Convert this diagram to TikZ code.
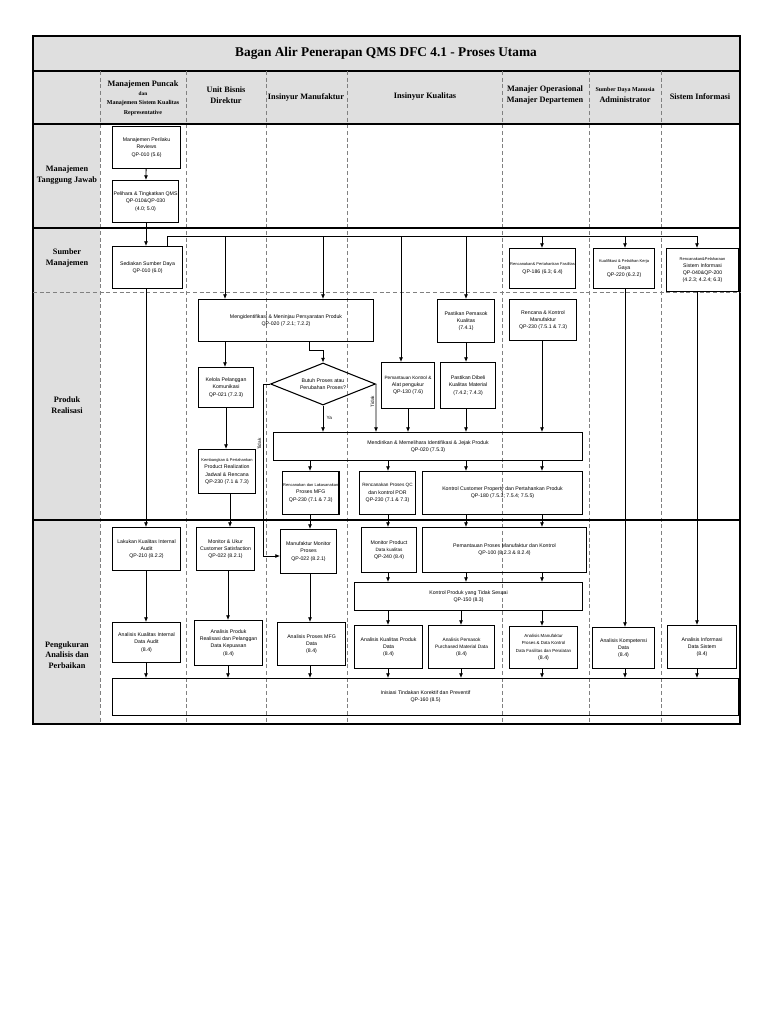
\documentclass[tikz,border=0pt]{standalone}
\usepackage{fontspec}
\setmainfont{Liberation Serif}
\setsansfont{Liberation Sans}
\usetikzlibrary{shapes.geometric,arrows.meta,calc}
\begin{document}
\begin{tikzpicture}[x=0.75pt,y=-0.75pt,
  box/.style={draw,line width=0.8pt,align=center,inner sep=0.5pt,font=\sffamily\fontsize{3.9}{5.4}\selectfont},
  arr/.style={-{Latex[length=3.5pt,width=3pt]},line width=0.6pt},
  ln/.style={line width=0.6pt},
  hd/.style={font=\bfseries\fontsize{6.2}{8}\selectfont,align=center},
  dsh/.style={densely dashed,line width=0.3pt,gray}]
\useasboundingbox (0,0) rectangle (768,1024);
\newcommand\bx[6]{\node[box,minimum width={(#4-#2)*0.75pt},minimum height={(#5-#3)*0.75pt},anchor=north west] (#1) at (#2,#3) {#6};}
% frame
\fill[gray!25] (33,36) rectangle (740,124);
\fill[gray!25] (33,124) rectangle (100,724);
\draw[line width=0.8pt] (33,36) rectangle (740,71);
\node[font=\bfseries\fontsize{10}{12}\selectfont] (title) at (386,53) {Bagan Alir Penerapan QMS DFC 4.1 - Proses Utama};
\draw[line width=1pt] (33,71) rectangle (740,724);
\foreach \x in {100,186,266,347,502,589,661} \draw[dsh] (\x,71) -- (\x,724);
\draw[line width=0.8pt] (33,124) -- (740,124);
\draw[line width=0.8pt] (33,228) -- (740,228);
\draw[dsh] (33,292) -- (740,292);
\draw[line width=0.8pt] (33,520) -- (740,520);
% headers
\node[hd] (h1) at (143,98) {Manajemen Puncak\\[-1pt]{\fontsize{4}{5}\selectfont dan}\\[-1pt]{\fontsize{4.5}{5.5}\selectfont Manajemen Sistem Kualitas}\\[-1pt]{\fontsize{4.5}{5.5}\selectfont Representative}};
\node[hd] (h2) at (226,95) {Unit Bisnis\\Direktur};
\node[hd] (h3) at (306,97) {Insinyur Manufaktur};
\node[hd] (h4) at (425,97) {Insinyur Kualitas};
\node[hd] (h5) at (545,95) {Manajer Operasional\\Manajer Departemen};
\node[hd] (h6) at (625,95) {{\fontsize{4.5}{5.5}\selectfont Sumber Daya Manusia}\\Administrator};
\node[hd] (h7) at (700,97) {Sistem Informasi};
\node[hd] (r1) at (67,175) {Manajemen\\Tanggung Jawab};
\node[hd] (r2) at (67,258) {Sumber\\Manajemen};
\node[hd] (r3) at (67,405) {Produk\\Realisasi};
\node[hd] (r4) at (67,655) {Pengukuran\\Analisis dan\\Perbaikan};
% boxes
\bx{b1}{112}{126}{180}{168}{Manajemen Perilaku\\Reviews\\QP-010 (5.6)}
\bx{b2}{112}{180}{178}{222}{Pelihara \& Tingkatkan QMS\\QP-010\&QP-030\\(4.0; 5.0)}
\bx{b3}{112}{246}{182}{288}{Sediakan Sumber Daya\\QP-010 (6.0)}
\bx{rf}{509}{248}{575}{288}{{\fontsize{3}{4}\selectfont Rencanakan\& Pertahankan Fasilitas}\\QP-186 (6.3; 6.4)}
\bx{kg}{593}{248}{654}{288}{{\fontsize{3}{4}\selectfont Kualifikasi \& Pelatihan Kerja}\\Gaya\\QP-220 (6.2.2)}
\bx{si}{666}{248}{738}{291}{{\fontsize{3}{4}\selectfont Rencanakan\&Pelaharaan}\\Sistem Informasi\\QP-040\&QP-200\\(4.2.3; 4.2.4; 6.3)}
\bx{mi}{198}{299}{373}{341}{Mengidentifikasi \& Meninjau Persyaratan Produk\\QP-020 (7.2.1; 7.2.2)}
\bx{pp}{437}{299}{494}{342}{Pastikan Pemasok\\Kualitas\\(7.4.1)}
\bx{rk}{509}{299}{576}{340}{Rencana \& Kontrol\\Manufaktur\\QP-230 (7.5.1 \& 7.3)}
\bx{kp}{198}{367}{253}{407}{Kelola Pelanggan\\Komunikasi\\QP-021 (7.2.3)}
\node[draw,diamond,aspect=2.5,line width=0.8pt,inner sep=0pt,minimum width=105*0.75pt,minimum height=42*0.75pt,align=center,font=\sffamily\fontsize{3.9}{5.4}\selectfont] (dm) at (323,384) {Butuh Proses atau\\Perubahan Proses?};
\bx{pk}{381}{362}{434}{408}{{\fontsize{3.5}{5}\selectfont Pemantauan Kontrol \&}\\Alat pengukur\\QP-130 (7.6)}
\bx{pd}{440}{362}{495}{408}{Pastikan Dibeli\\Kualitas Material\\(7.4.2; 7.4.3)}
\bx{md}{273}{432}{582}{460}{Mendirikan \& Memelihara Identifikasi \& Jejak Produk\\QP-020 (7.5.3)}
\bx{kb}{198}{449}{255}{493}{{\fontsize{3}{4}\selectfont Kembangkan \& Pertahankan}\\Product Realization\\Jadwal \& Rencana\\QP-230 (7.1 \& 7.3)}
\bx{rm}{282}{471}{337}{514}{{\fontsize{3}{4}\selectfont Rencanakan dan Lakasanakan}\\Proses MFG\\QP-230 (7.1 \& 7.3)}
\bx{rq}{359}{471}{415}{514}{{\fontsize{3.5}{5}\selectfont Rencanakan Proses QC}\\dan kontrol POR\\QP-230 (7.1 \& 7.3)}
\bx{kc}{422}{471}{582}{514}{Kontrol Customer Property dan Pertahankan Produk\\QP-180 (7.5.3; 7.5.4; 7.5.5)}
\bx{la}{112}{527}{180}{570}{Lakukan Kualitas Internal\\Audit\\QP-210 (8.2.2)}
\bx{mu}{196}{527}{254}{570}{Monitor \& Ukur\\Customer Satisfaction\\QP-022 (8.2.1)}
\bx{mm}{280}{529}{336}{573}{Manufaktur Monitor\\Proses\\QP-022 (8.2.1)}
\bx{mp}{361}{527}{416}{572}{Monitor Product\\{\fontsize{3.5}{4.5}\selectfont Data kualitas}\\QP-240 (8.4)}
\bx{pm}{422}{527}{586}{572}{Pemantauan Proses Manufaktur dan Kontrol\\QP-100 (8.2.3 \& 8.2.4)}
\bx{kt}{354}{582}{582}{610}{Kontrol Produk yang Tidak Sesuai\\QP-150 (8.3)}
\bx{a1}{112}{622}{180}{662}{Analisis Kualitas Internal\\Data Audit\\(8.4)}
\bx{a2}{194}{620}{262}{665}{Analisis Produk\\Realisasi dan Pelanggan\\Data Kepuasan\\(8.4)}
\bx{a3}{277}{622}{345}{665}{Analisis Proses MFG\\Data\\(8.4)}
\bx{a4}{354}{625}{422}{668}{Analisis Kualitas Produk\\Data\\(8.4)}
\bx{a5}{428}{625}{494}{668}{{\fontsize{3.6}{5}\selectfont Analisis Pemasok}\\{\fontsize{3.6}{5}\selectfont Purchased Material Data}\\(8.4)}
\bx{a6}{509}{626}{577}{668}{{\fontsize{3.3}{4.3}\selectfont Analisis Manufaktur}\\{\fontsize{3.3}{4.3}\selectfont Proses \& Data Kontrol}\\{\fontsize{3.3}{4.3}\selectfont Data Fasilitas dan Peralatan}\\(8.4)}
\bx{a7}{592}{627}{654}{668}{Analisis Kompetensi\\Data\\(8.4)}
\bx{a8}{667}{625}{736}{668}{Analisis Informasi\\Data Sistem\\(8.4)}
\bx{in}{112}{678}{738}{715}{Inisiasi Tindakan Korektif dan Preventif\\QP-160 (8.5)}
% connectors top
\draw[arr] (b1) -- (b2);
\draw[arr] (b2.south -| 146,0) -- (b3.north -| 146,0);
\coordinate (bs) at (167,236);
\coordinate (be) at (697,236);
\draw[ln] (b3.north -| bs) -- (bs) -- (be);
\draw[arr] (be) -- (si.north -| be);
\foreach \x/\t in {225/mi,323/mi,466/pp,542/rf,625/kg} \draw[arr] (\x,236) -- (\t.north -| \x,0);
\draw[arr] (401,236) -- (pk.north -| 401,0);
\draw[arr] (b3.south -| 146,0) -- (la.north -| 146,0);
% produk
\draw[arr] (mi.south -| 225,0) -- (kp.north -| 225,0);
\draw[arr] (mi.south -| 309,0) -- (309,350) -- (323,350) -- (dm.north);
\draw[arr] (dm.south) -- node[pos=0.45,right=-1pt,font=\sffamily\fontsize{3.5}{4}\selectfont]{Ya} (md.north -| dm.south);
\draw[arr] (dm.east) -- (376,385) -- (md.north -| 376,0) node[pos=0.35,above,rotate=90,font=\sffamily\fontsize{3.5}{4}\selectfont,inner sep=1pt]{Tidak};
\draw[arr] (dm.west) -- (263,384) -- node[pos=0.35,above,rotate=90,font=\sffamily\fontsize{3.5}{4}\selectfont,inner sep=1pt]{Tidak} (263,556) -- (mm.west |- 0,556);
\draw[arr] (pk.south -| 408,0) -- (md.north -| 408,0);
\draw[arr] (pp) -- (pd.north -| pp.south);
\draw[arr] (pd.south -| 466,0) -- (md.north -| 466,0);
\draw[arr] (rk.south -| 542,0) -- (md.north -| 542,0);
\draw[arr] (kp) -- (kb.north -| kp.south);
\draw[arr] (kb.south -| 230,0) -- (mu.north -| 230,0);
\foreach \x/\t in {310/rm,388/rq,466/kc,542/kc} \draw[arr] (md.south -| \x,0) -- (\t.north -| \x,0);
\draw[arr] (rm.south -| 310,0) -- (mm.north -| 310,0);
\draw[arr] (rq.south -| 388,0) -- (mp.north -| 388,0);
\draw[arr] (kc.south -| 466,0) -- (pm.north -| 466,0);
\draw[arr] (kc.south -| 542,0) -- (pm.north -| 542,0);
% pengukuran
\draw[arr] (la.south -| 146,0) -- (a1.north -| 146,0);
\draw[arr] (mu.south -| 228,0) -- (a2.north -| 228,0);
\draw[arr] (mm.south -| 310,0) -- (a3.north -| 310,0);
\draw[arr] (mp.south -| 388,0) -- (kt.north -| 388,0);
\draw[arr] (pm.south -| 466,0) -- (kt.north -| 466,0);
\draw[arr] (pm.south -| 542,0) -- (kt.north -| 542,0);
\draw[arr] (kt.south -| 388,0) -- (a4.north -| 388,0);
\draw[arr] (kt.south -| 461,0) -- (a5.north -| 461,0);
\draw[arr] (kt.south -| 542,0) -- (a6.north -| 542,0);
\draw[arr] (kg.south -| 625,0) -- (a7.north -| 625,0);
\draw[arr] (si.south -| 697,0) -- (a8.north -| 697,0);
\foreach \x/\t in {146/a1,228/a2,310/a3,388/a4,461/a5,542/a6,625/a7,697/a8} \draw[arr] (\t.south -| \x,0) -- (in.north -| \x,0);
\end{tikzpicture}
\end{document}
